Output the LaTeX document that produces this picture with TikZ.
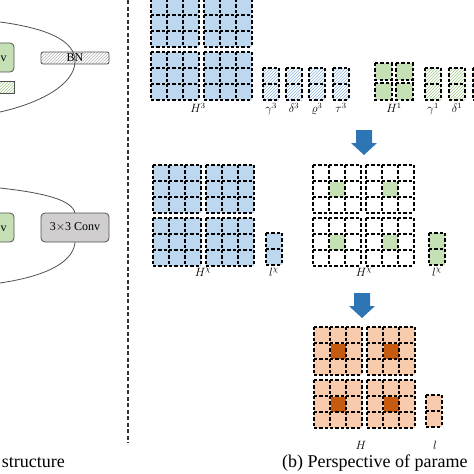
\documentclass[tikz,border=0pt]{standalone}
\usepackage{fontspec}
\setmainfont{Liberation Serif}
\usetikzlibrary{patterns, positioning}
\definecolor{paramblue}{RGB}{189,215,238}
\definecolor{paramgreen}{RGB}{197,224,180}
\definecolor{paramorange}{RGB}{248,203,173}
\definecolor{maskorange}{RGB}{197,90,17}
\definecolor{arrowblue}{RGB}{46,117,182}
\definecolor{convgray}{RGB}{208,206,206}
\definecolor{edgegray}{RGB}{80,80,80}
\definecolor{hatchbluecol}{RGB}{140,180,222}
\definecolor{hatchgreencol}{RGB}{160,200,135}

% one 2x2 matrix of 3x3 blocks: corner x, corner y, block fill, centre fill
\newcommand{\paramgrid}[4]{%
  \foreach \bx in {0,1}{
    \foreach \by in {0,1}{
      \fill[#3] (#1+53*\bx,#2+53*\by) rectangle ++(48,48);
      \fill[#4] (#1+53*\bx+16.5,#2+53*\by+16.5) rectangle ++(15,15);
      \foreach \cx in {0,1,2}{
        \foreach \cy in {0,1,2,3}{
          \draw[cell] (#1+53*\bx+16*\cx,#2+53*\by+16*\cy) -- ++(16,0);
          \draw[cell] (#1+53*\bx+16*\cy,#2+53*\by+16*\cx) -- ++(0,16);
        }
      }
    }
  }%
}
% one vector of two cells: corner x, corner y, cell fill
\newcommand{\paramvec}[3]{%
  \fill[#3] (#1,#2) rectangle ++(16,32);
  \foreach \cy in {0,1,2}{
    \draw[cell] (#1,#2+16*\cy) -- ++(16,0);
  }
  \foreach \cx in {0,16}{
    \foreach \cy in {0,1}{
      \draw[cell] (#1+\cx,#2+16*\cy) -- ++(0,16);
    }
  }%
}

\begin{document}
\begin{tikzpicture}[x=1pt,y=-1pt]
    \tikzstyle{cell}=[draw=black, line width=1.1pt, dash pattern=on 3.3pt off 2.1pt]
    \tikzstyle{hatchblue}=[pattern=north east lines, pattern color=hatchbluecol]
    \tikzstyle{hatchgreen}=[pattern=north east lines, pattern color=hatchgreencol]
    \tikzstyle{lbl}=[inner sep=1pt, font=\fontsize{12}{13}\selectfont]
    \tikzstyle{caption}=[inner sep=0pt, font=\fontsize{18}{20}\selectfont]
    \tikzstyle{greenbox}=[draw=edgegray, line width=0.8pt, fill=paramgreen, rounded corners=4pt]
    \tikzstyle{convbox}=[draw=edgegray, line width=0.8pt, fill=convgray, rounded corners=4pt,
        minimum width=68pt, minimum height=29pt, inner sep=0pt, font=\fontsize{12}{14}\selectfont]
    \tikzstyle{bnbox}=[draw=edgegray, line width=0.8pt, rounded corners=2pt, pattern=north east lines,
        pattern color=gray!60, minimum width=68pt, minimum height=12pt, inner sep=0pt,
        font=\fontsize{12}{12}\selectfont]
    \tikzstyle{branch}=[draw=edgegray, line width=0.8pt]
    \tikzstyle{sepline}=[draw=black!80, line width=2pt, dash pattern=on 4pt off 2.5pt]
    \tikzstyle{blockarrow}=[fill=arrowblue]

    \useasboundingbox (0,0) rectangle (474,474);
    \clip (0,0) rectangle (474,474);

    % left part: blocks of the branches
    \node[greenbox, minimum width=64pt, minimum height=29pt] (convA) at (-18,57.5) {};
    \node[anchor=base west, inner sep=0pt, font=\fontsize{12}{14}\selectfont] (convAtext) at (0.5,61.5) {v};
    \draw[branch, hatchgreen] (-50,81) rectangle (14,93);
    \node[bnbox] (bn) at (75,58) {BN};
    \draw[branch] (0,22) .. controls (45,28) and (76,40) .. (75,62)
        .. controls (74,85) and (40,103) .. (0,112);

    \draw[branch] (0,188) .. controls (45,193) and (72,200) .. (75,213) -- (75,243)
        .. controls (72,265) and (40,277) .. (0,283);
    \node[greenbox, minimum width=64pt, minimum height=29pt] (convB) at (-18,227.5) {};
    \node[anchor=base west, inner sep=0pt, font=\fontsize{12}{14}\selectfont] (convBtext) at (0.5,231.5) {v};
    \node[convbox] (conv) at (75,227.5) {3$\times$3 Conv};

    \draw[sepline] (128,0) -- (128,443);

    % top row: parameters of the branches
    \paramgrid{151}{-1}{paramblue}{paramblue}
    \node[lbl] (H3) at (198,108) {$H^3$};
    \paramvec{263}{68}{hatchblue}
    \paramvec{286}{68}{hatchblue}
    \paramvec{309}{68}{hatchblue}
    \paramvec{333}{68}{hatchblue}
    \node[lbl] (g3) at (271,109) {$\gamma^3$};
    \node[lbl] (d3) at (294,108) {$\delta^3$};
    \node[lbl] (r3) at (317,109) {$\varrho^3$};
    \node[lbl] (t3) at (341,108) {$\tau^3$};
    \foreach \hx in {375,396}{
      \foreach \hy in {63,83}{
        \fill[paramgreen] (\hx,\hy) rectangle ++(17,17);
        \draw[cell] (\hx,\hy) -- ++(17,0) -- ++(0,17) -- ++(-17,0) -- cycle;
      }
    }
    \node[lbl] (H1) at (394,108) {$H^1$};
    \paramvec{425}{68}{hatchgreen}
    \paramvec{449}{68}{hatchgreen}
    \paramvec{473}{68}{hatchgreen}
    \node[lbl] (g1) at (433,109) {$\gamma^1$};
    \node[lbl] (d1) at (457,108) {$\delta^1$};

    \fill[blockarrow] (356,130) -- (372,130) -- (372,143) -- (377,143) -- (364,155)
        -- (351,143) -- (356,143) -- cycle;

    % middle row: equivalent kernels
    \paramgrid{153}{165}{paramblue}{paramblue}
    \node[lbl] (Hx) at (203,272) {$H^\chi$};
    \paramvec{266}{233}{paramblue}
    \node[lbl] (lx) at (274,272) {$l^\chi$};

    \paramgrid{313}{165}{white}{paramgreen}
    \node[lbl] (Hxg) at (364,272) {$H^\chi$};
    \paramvec{429}{233}{paramgreen}
    \node[lbl] (lxg) at (437,272) {$l^\chi$};

    \fill[blockarrow] (354,293) -- (370,293) -- (370,306) -- (375,306) -- (362,318)
        -- (349,306) -- (354,306) -- cycle;

    % bottom row: merged kernel
    \paramgrid{314}{327}{paramorange}{maskorange}
    \node[lbl] (H) at (361,445) {$H$};
    \paramvec{426}{395}{paramorange}
    \node[lbl] (l) at (435,445) {$l$};

    \node[caption, anchor=base east] (capa) at (65,467) {structure};
    \node[caption, anchor=base west] (capb) at (282,467) {(b) Perspective of parame};
\end{tikzpicture}
\end{document}
